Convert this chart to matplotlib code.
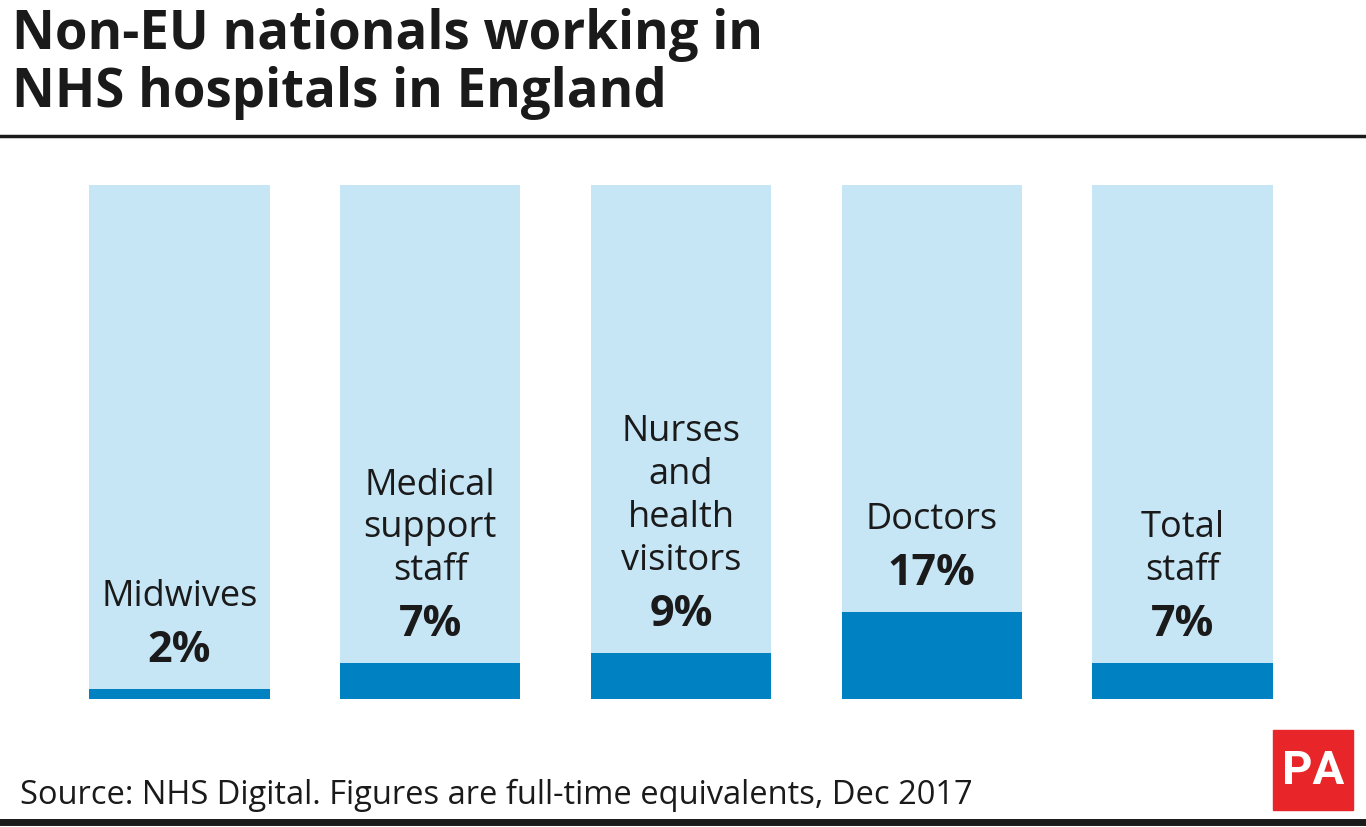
import matplotlib.pyplot as plt
from matplotlib.patches import Rectangle

categories = ["Midwives", "Medical\nsupport\nstaff", "Nurses\nand\nhealth\nvisitors", "Doctors", "Total\nstaff"]
values = [2, 7, 9, 17, 7]

W, H = 1366, 828
fig = plt.figure(figsize=(W / 100, H / 100), dpi=100)
fig.patch.set_facecolor("white")

fig.text(12 / W, 1 - 8 / H, "Non-EU nationals working in\nNHS hospitals in England",
         fontsize=38, fontweight="bold", family="Open Sans", color="#1a1a1a",
         va="top", ha="left", linespacing=1.1)
fig.add_artist(plt.Line2D([0, 1], [1 - 137 / H] * 2, color="#1a1a1a", lw=2.5))

ax = fig.add_axes([89 / W, 128 / H, 1184 / W, 514 / H])
x = range(len(categories))
ax.bar(x, [100] * len(values), width=0.72, color="#c6e5f5")
ax.bar(x, values, width=0.72, color="#0081c1")
ax.set_xlim(-0.36, len(values) - 0.64)
ax.set_ylim(0, 100)
ax.axis("off")

for i, (c, v) in enumerate(zip(categories, values)):
    ax.annotate(f"{v}%", (i, v), xytext=(0, 13), textcoords="offset points",
                ha="center", va="bottom", fontsize=31, fontweight="bold",
                family="Open Sans", color="#1a1a1a")
    ax.annotate(c, (i, v), xytext=(0, 54), textcoords="offset points",
                ha="center", va="bottom", fontsize=26, family="Open Sans",
                color="#1a1a1a", linespacing=1.25)

fig.text(20 / W, 1 - 795 / H, "Source: NHS Digital. Figures are full-time equivalents, Dec 2017",
         fontsize=23.5, family="Open Sans", color="#1a1a1a", va="center", ha="left")
fig.add_artist(plt.Line2D([0, 1], [1 - 823 / H] * 2, color="#1a1a1a", lw=5))

fig.add_artist(Rectangle((1273 / W, 1 - 811 / H), 80 / W, 80 / H,
                         transform=fig.transFigure, color="#e8262a"))
fig.text(1313 / W, 1 - 771 / H, "PA", fontsize=34, fontweight="bold",
         family="Roboto", color="white", ha="center", va="center")

fig.savefig("out.png", dpi=100)
